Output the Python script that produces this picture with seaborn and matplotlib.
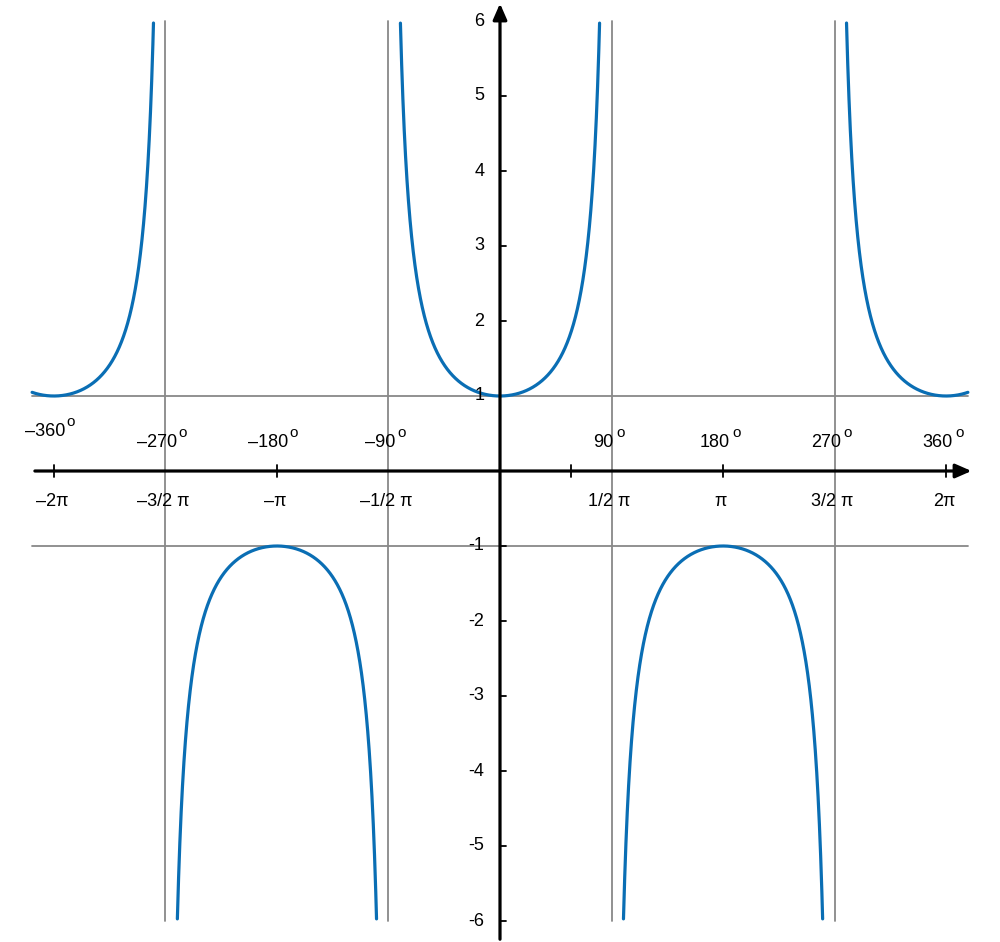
import numpy as np
import matplotlib
matplotlib.use("Agg")
import matplotlib.pyplot as plt
import seaborn as sns

sns.set_theme(style="white")
plt.rcParams['font.family'] = ['Liberation Sans', 'DejaVu Sans']
plt.rcParams['text.color'] = 'black'

# data
rad_ticks = [-2*np.pi, -1.5*np.pi, -np.pi, -0.5*np.pi, 0.5*np.pi, np.pi, 1.5*np.pi, 2*np.pi]
rad_labels = ["–2π", "–3/2 π", "–π", "–1/2 π", "1/2 π", "π", "3/2 π", "2π"]
deg_labels = ["–360", "–270", "–180", "–90", "90", "180", "270", "360"]
x_tick_marks = [-2*np.pi, -np.pi, 1.0, np.pi, 2*np.pi]
y_ticks = [-6, -5, -4, -3, -2, -1, 1, 2, 3, 4, 5, 6]
asymptotes = [-1.5*np.pi, -0.5*np.pi, 0.5*np.pi, 1.5*np.pi]
x_min, x_max = -6.59, 6.59

fig = plt.figure(figsize=(10, 9.42), dpi=100)
ax = fig.add_axes([0, 0, 1, 1])
ax.set_xlim(-500/71, 500/71)
ax.set_ylim(-471/75, 471/75)
ax.axis("off")

for a in asymptotes:
    ax.plot([a, a], [-6, 6], color="#888888", lw=1.3, zorder=1)
for h in [1, -1]:
    ax.plot([x_min, x_max], [h, h], color="#888888", lw=1.3, zorder=1)

bounds = [x_min] + asymptotes + [x_max]
for i in range(len(bounds) - 1):
    x = np.linspace(bounds[i] + 1e-4, bounds[i+1] - 1e-4, 2000)
    y = 1/np.cos(x)
    m = np.abs(y) <= 6
    ax.plot(x[m], y[m], color="#0a6eb4", lw=2.3, zorder=3)

ap = dict(arrowstyle="-|>,head_length=0.8,head_width=0.35", color="black", lw=2.3)
ax.annotate("", xy=(6.68, 0), xytext=(x_min, 0), arrowprops=ap, annotation_clip=False)
ax.annotate("", xy=(0, 6.27), xytext=(0, -6.28), arrowprops=ap, annotation_clip=False)

for t in x_tick_marks:
    ax.plot([t, t], [-0.08, 0.08], color="black", lw=1.3)
for t in y_ticks:
    ax.plot([0, 0.09], [t, t], color="black", lw=1.3)
    ax.text(-0.22, t, str(t), ha="right", va="center", fontsize=13)

for t, r, d in zip(rad_ticks, rad_labels, deg_labels):
    ax.text(t - 0.03, -0.4, r, ha="center", va="center", fontsize=13)
    dy = 0.52 if d == "–360" else 0.38
    cx = t - 0.12
    ax.text(cx, dy, d, ha="center", va="center", fontsize=13)
    ax.text(cx + 0.055*len(d) + 0.08, dy + 0.13, "o", ha="left", va="center", fontsize=11)

fig.savefig("out.png", dpi=100)
